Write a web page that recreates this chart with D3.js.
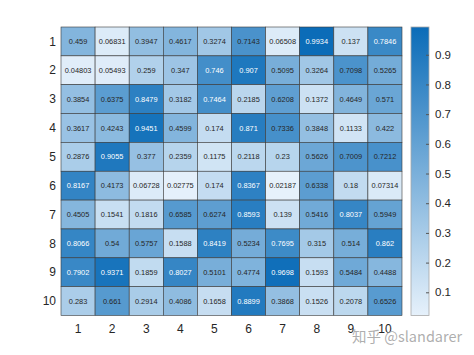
<!DOCTYPE html>
<html><head><meta charset="utf-8">
<script src="https://cdn.jsdelivr.net/npm/d3@7"></script>
<style>body{margin:0;background:#fff;}svg{display:block;font-family:"Liberation Sans",Arial,sans-serif;}</style>
</head><body>
<script>
const rowLabels = ["1","2","3","4","5","6","7","8","9","10"];
const colLabels = ["1","2","3","4","5","6","7","8","9","10"];
const row1 = [0.459,0.06831,0.3947,0.4617,0.3274,0.7143,0.06508,0.9934,0.137,0.7846];
const row2 = [0.04803,0.05493,0.259,0.347,0.746,0.907,0.5095,0.3264,0.7098,0.5265];
const row3 = [0.3854,0.6375,0.8479,0.3182,0.7464,0.2185,0.6208,0.1372,0.4649,0.571];
const row4 = [0.3617,0.4243,0.9451,0.4599,0.174,0.871,0.7336,0.3848,0.1133,0.422];
const row5 = [0.2876,0.9055,0.377,0.2359,0.1175,0.2118,0.23,0.5626,0.7009,0.7212];
const row6 = [0.8167,0.4173,0.06728,0.02775,0.174,0.8367,0.02187,0.6338,0.18,0.07314];
const row7 = [0.4505,0.1541,0.1816,0.6585,0.6274,0.8593,0.139,0.5416,0.8037,0.5949];
const row8 = [0.8066,0.54,0.5757,0.1588,0.8419,0.5234,0.7695,0.315,0.514,0.862];
const row9 = [0.7902,0.9371,0.1859,0.8027,0.5101,0.4774,0.9698,0.1593,0.5484,0.4488];
const row10 = [0.283,0.661,0.2914,0.4086,0.1658,0.8899,0.3868,0.1526,0.2078,0.6526];
const matrix = [row1,row2,row3,row4,row5,row6,row7,row8,row9,row10];
const cbTicks = [0.1,0.2,0.3,0.4,0.5,0.6,0.7,0.8,0.9];

const W = 474, H = 355;
const gx0 = 61, gx1 = 402, gy0 = 27, gy1 = 315.5;
const cbx0 = 411, cbx1 = 429;

const svg = d3.select("body").append("svg").attr("width", W).attr("height", H);

const x = d3.scaleBand().domain(colLabels).range([gx0, gx1]);
const y = d3.scaleBand().domain(rowLabels).range([gy0, gy1]);
const all = matrix.flat();
const vmin = d3.min(all), vmax = d3.max(all);
const color = d3.scaleLinear().domain([vmin, vmax]).range(["#e6f1fb", "#0b6cb8"]).interpolate(d3.interpolateRgb);

const cells = [];
matrix.forEach((r, i) => r.forEach((v, j) => cells.push({r: rowLabels[i], c: colLabels[j], v})));

const g = svg.append("g");
g.selectAll("rect.cell").data(cells).enter().append("rect")
  .attr("class","cell")
  .attr("x", d => x(d.c)).attr("y", d => y(d.r))
  .attr("width", x.bandwidth()).attr("height", y.bandwidth())
  .attr("fill", d => color(d.v))
  .attr("stroke", "#3a3a3a").attr("stroke-width", 0.6);

g.selectAll("text.val").data(cells).enter().append("text")
  .attr("class","val")
  .attr("x", d => x(d.c) + x.bandwidth()/2)
  .attr("y", d => y(d.r) + y.bandwidth()/2)
  .attr("dy", "0.35em")
  .attr("text-anchor", "middle")
  .attr("font-size", 7.4)
  .attr("fill", d => d.v > 0.74 ? "#ffffff" : "#262626")
  .text(d => String(d.v));

// row labels
svg.append("g").selectAll("text").data(rowLabels).enter().append("text")
  .attr("x", 56).attr("y", d => y(d) + y.bandwidth()/2).attr("dy","0.35em")
  .attr("text-anchor","end").attr("font-size", 12).attr("fill","#262626").text(d => d);
// col labels
svg.append("g").selectAll("text").data(colLabels).enter().append("text")
  .attr("x", d => x(d) + x.bandwidth()/2).attr("y", 329).attr("dy","0.35em")
  .attr("text-anchor","middle").attr("font-size", 12).attr("fill","#262626").text(d => d);

// colorbar
const cy = d3.scaleLinear().domain([vmin, vmax]).range([gy1, gy0]);
const defs = svg.append("defs");
const grad = defs.append("linearGradient").attr("id","cbg").attr("x1",0).attr("y1",1).attr("x2",0).attr("y2",0);
grad.append("stop").attr("offset","0%").attr("stop-color", color(vmin));
grad.append("stop").attr("offset","100%").attr("stop-color", color(vmax));
svg.append("rect").attr("x", cbx0).attr("y", gy0).attr("width", cbx1-cbx0).attr("height", gy1-gy0)
  .attr("fill","url(#cbg)").attr("stroke","#a8a8a8").attr("stroke-width",0.8);
const cbAxis = d3.axisRight(cy).tickValues(cbTicks).tickSize(3).tickFormat(d3.format(".1f"));
const ag = svg.append("g").attr("transform", `translate(${cbx1},0)`).call(cbAxis);
ag.select(".domain").remove();
ag.selectAll(".tick line").attr("x1",-3).attr("x2",0).attr("stroke","#555");
ag.selectAll(".tick text").attr("x", 6).attr("font-size", 11.5).attr("fill","#262626").attr("font-family","Liberation Sans, Arial, sans-serif");

// watermark
svg.append("text").attr("x", 352).attr("y", 342).attr("font-size", 14.5)
  .attr("font-family","Noto Sans CJK SC, Liberation Sans, sans-serif")
  .attr("fill","#a0a0a0").attr("fill-opacity",0.85).text("知乎 @slandarer");
</script>
</body></html>
